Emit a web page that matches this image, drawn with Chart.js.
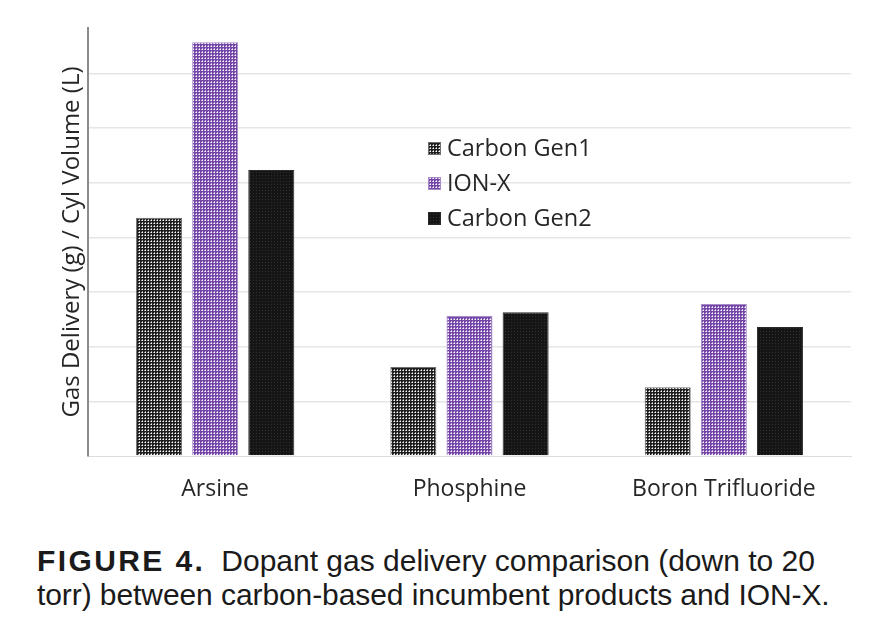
<!DOCTYPE html>
<html>
<head>
<meta charset="utf-8">
<script src="https://cdn.jsdelivr.net/npm/chart.js@4.4.1/dist/chart.umd.min.js"></script>
<style>
  html, body { margin: 0; padding: 0; background: #ffffff; }
  #wrap { position: relative; width: 886px; height: 634px; }
  #chartBox { position: absolute; left: 0; top: 0; width: 886px; height: 525px; }
  #caption { position: absolute; left: 37px; top: 544px; width: 849px; white-space: nowrap;
    font-family: "Liberation Sans", Arial, sans-serif;
    font-size: 30px; line-height: 34px; color: #1a1a1a; }
  #caption b { font-weight: bold; letter-spacing: 2.4px; margin-right: 16px; }
  #caption .l2 { letter-spacing: -0.08px; }
</style>
</head>
<body>
<div id="wrap">
  <div id="chartBox"><canvas id="c" width="886" height="525"></canvas></div>
  <div id="caption"><b>FIGURE 4.</b>Dopant gas delivery comparison (down to 20<br><span class="l2">torr) between carbon-based incumbent products and ION-X.</span></div>
</div>
<script>
const categories = ['Arsine', 'Phosphine', 'Boron Trifluoride'];
const seriesNames = ['Carbon Gen1', 'ION-X', 'Carbon Gen2'];
const carbonGen1 = [4.36, 1.63, 1.26];
const ionX = [7.57, 2.56, 2.78];
const carbonGen2 = [5.23, 2.63, 2.36];
const yTitle = 'Gas Delivery (g) / Cyl Volume (L)';

function makePattern(bg, dot, half) {
  const t = document.createElement('canvas');
  t.width = 3; t.height = 3;
  const g = t.getContext('2d');
  g.fillStyle = bg; g.fillRect(0, 0, 3, 3);
  if (half) { g.fillStyle = half; g.fillRect(0, 1, 1, 1); g.fillRect(1, 0, 1, 1); }
  g.fillStyle = dot; g.fillRect(1, 1, 1, 1);
  return g.createPattern(t, 'repeat');
}
const patGen1 = makePattern('#1e1e1e', '#ffffff', '#9a9a9a');
const patIon = makePattern('#7446a6', '#ffffff', '#c7b0e0');
const patGen2 = makePattern('#151515', '#2e2e2e', null);

const legendPlugin = {
  id: 'inLegend',
  afterDraw(chart) {
    const ctx = chart.ctx;
    ctx.save();
    ctx.font = '23.5px "Open Sans", sans-serif';
    ctx.textBaseline = 'middle';
    chart.data.datasets.forEach((ds, i) => {
      const y = 148 + i * 35;
      ctx.fillStyle = ds.backgroundColor;
      ctx.fillRect(428, y - 6, 13, 13);
      ctx.strokeStyle = ds.borderColor;
      ctx.lineWidth = 1;
      ctx.strokeRect(428.5, y - 5.5, 12, 12);
      ctx.fillStyle = '#262626';
      ctx.fillText(ds.label, 447, y + 1);
    });
    ctx.restore();
  }
};

new Chart(document.getElementById('c'), {
  type: 'bar',
  data: {
    labels: categories,
    datasets: [
      { label: seriesNames[0], data: carbonGen1, backgroundColor: patGen1, borderColor: '#6e6e6e', borderWidth: 1 },
      { label: seriesNames[1], data: ionX, backgroundColor: patIon, borderColor: '#a58bc8', borderWidth: 1 },
      { label: seriesNames[2], data: carbonGen2, backgroundColor: patGen2, borderColor: '#2a2a2a', borderWidth: 1 }
    ]
  },
  options: {
    responsive: false,
    animation: false,
    layout: { padding: { top: 28, right: 35, left: 52, bottom: 0 } },
    datasets: { bar: { categoryPercentage: 0.662, barPercentage: 0.82 } },
    plugins: { legend: { display: false }, tooltip: { enabled: false } },
    scales: {
      x: {
        grid: { display: false, drawTicks: false },
        border: { display: true, color: '#dcdcdc', width: 1 },
        ticks: { color: '#262626', padding: 20, font: { family: 'Open Sans', size: 23 } },
        afterFit(s) { s.height = 69; }
      },
      y: {
        min: 0, max: 7.83,
        ticks: { display: false, stepSize: 1 },
        grid: {
          drawTicks: false,
          lineWidth: 1.5,
          color: (c) => (c.tick && Number.isInteger(c.tick.value) && c.tick.value > 0) ? '#e6e6e6' : 'rgba(0,0,0,0)'
        },
        border: { display: true, color: '#8c8c8c', width: 2 },
        title: { display: true, text: yTitle, color: '#262626', padding: { top: 6, bottom: 0 },
          font: { family: 'Open Sans', size: 24 } },
        afterFit(s) { s.width = 36; }
      }
    }
  },
  plugins: [legendPlugin]
});
</script>
</body>
</html>
